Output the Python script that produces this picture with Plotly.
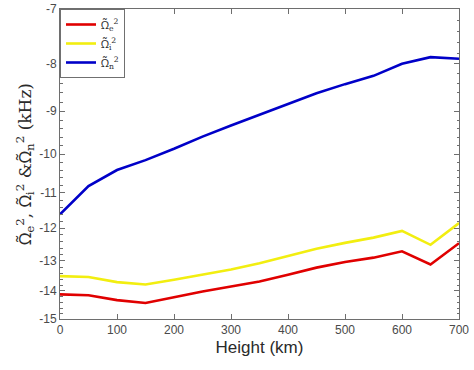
import plotly.graph_objects as go

height_km = [0, 50, 100, 150, 200, 250, 300, 350, 400, 450, 500, 550, 600, 650, 700]
omega_e = [-14.12, -14.15, -14.32, -14.42, -14.22, -14.02, -13.85, -13.68, -13.45, -13.22, -13.04, -12.9, -12.7, -13.12, -12.45]
omega_i = [-13.5, -13.53, -13.7, -13.78, -13.62, -13.45, -13.28, -13.08, -12.86, -12.62, -12.44, -12.28, -12.08, -12.5, -11.85]
omega_n = [-11.6, -10.82, -10.4, -10.15, -9.87, -9.58, -9.32, -9.08, -8.85, -8.61, -8.42, -8.25, -8.01, -7.88, -7.91]

y_ticks = [-7, -8, -9, -10, -11, -12, -13, -14, -15]
x_ticks = [0, 100, 200, 300, 400, 500, 600, 700]

OM = "<span style='font-family:Noto Sans'>Ω̃</span>"

series = [
    (OM + "<sub>e</sub><sup>2</sup>", omega_e, "#e00000"),
    (OM + "<sub>i</sub><sup>2</sup>", omega_i, "#f2ee10"),
    (OM + "<sub>n</sub><sup>2</sup>", omega_n, "#0000c8"),
]

fig = go.Figure()
for name, vals, col in series:
    # log axis of negative values (MATLAB style): plot magnitudes on a reversed log axis
    fig.add_trace(go.Scatter(x=height_km, y=[-v for v in vals], mode="lines", name=name,
                             line=dict(color=col, width=2.6)))

minor_vals = [round(7 + 0.2 * k, 1) for k in range(41)]
minor_vals = [v for v in minor_vals if abs(v - round(v)) > 1e-6]

serif = "DejaVu Serif, Liberation Serif, serif"
sans = "Liberation Sans, Arial, sans-serif"
axis_col = "#6e6e6e"
fig.update_layout(
    width=474, height=370,
    margin=dict(l=60, r=15, t=9, b=51),
    paper_bgcolor="white", plot_bgcolor="white",
    showlegend=True,
    legend=dict(x=0, y=1, xanchor="left", yanchor="top",
                bgcolor="white", bordercolor="#707070", borderwidth=1,
                font=dict(family=serif, size=11, color="#303030"),
                tracegroupgap=0, itemwidth=30),
    xaxis=dict(range=[0, 700], tickvals=x_ticks, ticktext=[str(t) for t in x_ticks],
               automargin=False,
               ticks="inside", ticklen=5, tickcolor=axis_col,
               showline=True, linecolor=axis_col, linewidth=1, mirror="allticks",
               showgrid=False, zeroline=False,
               tickfont=dict(family=sans, size=12, color="#4a4a4a"),
               title=dict(text="Height (km)", standoff=4,
                          font=dict(family=sans, size=17, color="#2a2a2a"))),
    yaxis=dict(type="log", range=[1.1760913, 0.8450980],
               automargin=False,
               tickvals=[-t for t in y_ticks], ticktext=[str(t) for t in y_ticks],
               ticks="inside", ticklen=5, tickcolor=axis_col,
               minor=dict(tickvals=minor_vals, ticks="inside", ticklen=2.5, tickcolor=axis_col),
               showline=True, linecolor=axis_col, linewidth=1, mirror="allticks",
               showgrid=False, zeroline=False,
               tickfont=dict(family=sans, size=12, color="#4a4a4a"),
               title=dict(text=OM + "<sub>e</sub><sup>2</sup>, " + OM + "<sub>i</sub><sup>2</sup> &amp;"
                          + OM + "<sub>n</sub><sup>2</sup> (kHz)",
                          standoff=3,
                          font=dict(family=serif, size=17, color="#2a2a2a"))),
)

fig.write_html("out.html", config={"displayModeBar": False},
               post_script="document.body.style.margin='0';document.body.style.overflow='hidden';")
